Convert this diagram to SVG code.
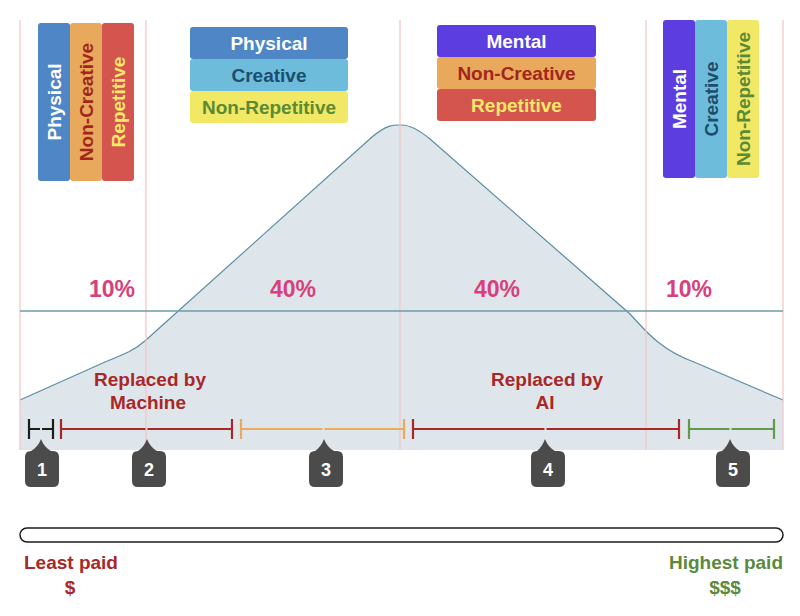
<svg xmlns="http://www.w3.org/2000/svg" width="800" height="616" viewBox="0 0 800 616">
<defs>
<style>
text{font-family:"Liberation Sans",Arial,sans-serif;font-weight:bold}
.lbl{font-size:19px;text-anchor:middle}
.vl{font-size:19px;text-anchor:middle;dominant-baseline:central}
.pct{font-size:23px;fill:#d9407a;text-anchor:middle}
.rep{font-size:19px;fill:#a82828;text-anchor:middle}
.num{font-size:18px;fill:#ffffff;text-anchor:middle}
.guide{stroke:#f3c4c4;stroke-width:1.2}
.callout{fill:#4b4b4b}
.bar{fill:none;stroke-width:2.2}
</style>
</defs>
<rect width="800" height="616" fill="#ffffff"/>
<g id="distribution">
<path d="M20,400 L105,362 C125,354 135,350 146,340 L372,137 C388,124 394,125 401,125 C409,125 417,128 430,139 L630,314 C645,330 660,350 694,362 L783,400 L783,450 L20,450 Z" fill="#dee6ec"/>
<path d="M20,400 L105,362 C125,354 135,350 146,340 L372,137 C388,124 394,125 401,125 C409,125 417,128 430,139 L630,314 C645,330 660,350 694,362 L783,400" fill="none" stroke="#5b8ea2" stroke-width="1.2"/>
</g>
<g id="guides">
<line class="guide" x1="20" y1="20" x2="20" y2="450"/>
<line class="guide" x1="146" y1="20" x2="146" y2="450"/>
<line class="guide" x1="400" y1="20" x2="400" y2="450"/>
<line class="guide" x1="646" y1="20" x2="646" y2="450"/>
<line class="guide" x1="783" y1="20" x2="783" y2="450"/>
<line x1="20" y1="311" x2="783" y2="311" stroke="#6d9ba8" stroke-width="1.5"/>
</g>
<g id="tags-left">
<rect x="38" y="23" width="32" height="158" rx="3" fill="#4e86c6"/>
<rect x="70" y="23" width="32" height="158" rx="3" fill="#e8a95c"/>
<rect x="102" y="23" width="32" height="158" rx="3" fill="#d3554d"/>
<text class="vl" fill="#ffffff" transform="translate(54,102) rotate(-90)">Physical</text>
<text class="vl" fill="#a3261d" transform="translate(86,102) rotate(-90)">Non-Creative</text>
<text class="vl" fill="#f6e86a" transform="translate(118,102) rotate(-90)">Repetitive</text>
</g>
<g id="tags-center-left">
<rect x="190" y="27" width="158" height="32" rx="3" fill="#4e86c6"/>
<rect x="190" y="59" width="158" height="32" rx="3" fill="#6dbcdc"/>
<rect x="190" y="91" width="158" height="32" rx="3" fill="#f1e866"/>
<text class="lbl" x="269" y="50" fill="#ffffff">Physical</text>
<text class="lbl" x="269" y="82" fill="#1d4d6c">Creative</text>
<text class="lbl" x="269" y="114" fill="#5b8a34">Non-Repetitive</text>
</g>
<g id="tags-center-right">
<rect x="437" y="25" width="159" height="32" rx="3" fill="#5b3de0"/>
<rect x="437" y="57" width="159" height="32" rx="3" fill="#e8a95c"/>
<rect x="437" y="89" width="159" height="32" rx="3" fill="#d3554d"/>
<text class="lbl" x="516.5" y="48" fill="#ffffff">Mental</text>
<text class="lbl" x="516.5" y="80" fill="#a3261d">Non-Creative</text>
<text class="lbl" x="516.5" y="112" fill="#f6e86a">Repetitive</text>
</g>
<g id="tags-right">
<rect x="663" y="20" width="32" height="158" rx="3" fill="#5b3de0"/>
<rect x="695" y="20" width="32" height="158" rx="3" fill="#6dbcdc"/>
<rect x="727" y="20" width="32" height="158" rx="3" fill="#f1e866"/>
<text class="vl" fill="#ffffff" transform="translate(679,99) rotate(-90)">Mental</text>
<text class="vl" fill="#1d4d6c" transform="translate(711,99) rotate(-90)">Creative</text>
<text class="vl" fill="#5b8a34" transform="translate(743,99) rotate(-90)">Non-Repetitive</text>
</g>
<g id="percentages">
<text class="pct" x="112" y="297">10%</text>
<text class="pct" x="293" y="297">40%</text>
<text class="pct" x="497" y="297">40%</text>
<text class="pct" x="689" y="297">10%</text>
</g>
<g id="replaced-machine">
<text class="rep" x="150" y="386">Replaced by</text>
<text class="rep" x="148" y="409">Machine</text>
</g>
<g id="replaced-ai">
<text class="rep" x="547" y="386">Replaced by</text>
<text class="rep" x="545" y="409">AI</text>
</g>
<g id="connectors">
<g stroke="#1c1c1c" class="bar"><path d="M29,419 V439 M53,419 V439 M29,429 H40 M42,429 H53"/></g>
<g stroke="#a82828" class="bar"><path d="M61,419 V439 M232,419 V439 M61,429 H145.5 M147.5,429 H232"/></g>
<g stroke="#e9ab60" class="bar"><path d="M241,419 V439 M404,419 V439 M241,429 H322.5 M324.5,429 H404"/></g>
<g stroke="#a82828" class="bar"><path d="M413,419 V439 M679,419 V439 M413,429 H544.5 M546.5,429 H679"/></g>
<g stroke="#62994a" class="bar"><path d="M689,419 V439 M774,419 V439 M689,429 H729.5 M731.5,429 H774"/></g>
</g>
<g id="callout-1">
<path class="callout" d="M41,439 Q44,447 51,451 H53 Q59,451 59,457 V481 Q59,487 53,487 H31 Q25,487 25,481 V457 Q25,451 31,451 Q38,447 41,439 Z"/>
<text class="num" x="42" y="476">1</text>
</g>
<g id="callout-2">
<path class="callout" d="M147,439 Q150,447 157,451 H160 Q166,451 166,457 V481 Q166,487 160,487 H138 Q132,487 132,481 V457 Q132,451 138,451 Q144,447 147,439 Z"/>
<text class="num" x="149" y="476">2</text>
</g>
<g id="callout-3">
<path class="callout" d="M324,439 Q327,447 334,451 H337 Q343,451 343,457 V481 Q343,487 337,487 H315 Q309,487 309,481 V457 Q309,451 315,451 Q321,447 324,439 Z"/>
<text class="num" x="326" y="476">3</text>
</g>
<g id="callout-4">
<path class="callout" d="M545,439 Q548,447 555,451 H559 Q565,451 565,457 V481 Q565,487 559,487 H537 Q531,487 531,481 V457 Q531,451 537,451 Q542,447 545,439 Z"/>
<text class="num" x="548" y="476">4</text>
</g>
<g id="callout-5">
<path class="callout" d="M730,439 Q733,447 740,451 H744 Q750,451 750,457 V481 Q750,487 744,487 H722 Q716,487 716,481 V457 Q716,451 722,451 Q727,447 730,439 Z"/>
<text class="num" x="733" y="476">5</text>
</g>
<g id="pay-scale">
<rect x="20" y="528" width="763" height="14" rx="7" fill="#ffffff" stroke="#1c1c1c" stroke-width="1.5"/>
<text x="24" y="569" font-size="19" fill="#a82828">Least paid</text>
<text x="70" y="594" font-size="19" fill="#a82828" text-anchor="middle">$</text>
<text x="783" y="569" font-size="19" fill="#5b8a3c" text-anchor="end">Highest paid</text>
<text x="725" y="594" font-size="19" fill="#5b8a3c" text-anchor="middle">$$$</text>
</g>
</svg>
